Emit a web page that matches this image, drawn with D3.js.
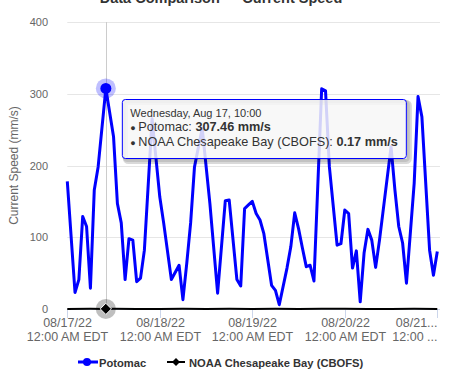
<!DOCTYPE html>
<html>
<head>
<meta charset="utf-8">
<script src="https://cdn.jsdelivr.net/npm/d3@7"></script>
<style>
    body { margin: 0; background: #ffffff; }
    svg { font-family: "Liberation Sans", Arial, sans-serif; }
</style>
</head>
<body>
<div id="chart"></div>
<script>
// Hours after 08/17/22 00:00 EDT and current speeds (mm/s)
const potomacHours = [0, 2, 3, 4, 5, 6, 7, 8, 10, 12, 13, 14, 15, 16, 17, 18, 19, 20, 22, 24,
    25, 27, 29, 30, 31, 32, 33, 35, 37, 39, 41, 42, 44, 45, 46, 47, 48, 49, 50, 51,
    53, 54, 55, 57, 58, 59, 60, 61, 62, 63, 64, 66, 67, 68, 70, 71, 72, 73, 74, 75,
    76, 77, 78, 79, 80, 81, 84, 85, 86, 87, 88, 90, 91, 92, 94, 95, 96];
const potomacValues = [178, 23, 41, 129, 115, 29, 166, 198, 307.46, 240, 147, 120, 41, 98, 96, 38, 43, 82, 265, 156,
    120, 41, 61, 13, 64, 120, 198, 252, 147, 22, 151, 152, 41, 32, 140, 145, 150, 133, 124, 105,
    33, 26, 6, 57, 87, 134, 112, 85, 59, 61, 39, 307, 304, 198, 89, 91, 138, 133, 57, 81,
    10, 78, 111, 96, 58, 96, 226, 166, 115, 92, 36, 175, 296, 268, 82, 47, 80];
const noaaHours = [0, 6, 10, 12, 18, 24, 30, 36, 42, 48, 54, 60, 66, 72, 78, 84, 90, 96];
const noaaValues = [0.12, 0.24, 0.17, 0.21, 0.09, 0.15, 0.26, 0.11, 0.19, 0.14, 0.22, 0.08, 0.18, 0.23, 0.1, 0.16, 0.2, 0.13];

const seriesNames = ["Potomac", "NOAA Chesapeake Bay (CBOFS)"];
const seriesColors = ["#0000ff", "#000000"];
const dayLabels = ["08/17/22", "08/18/22", "08/19/22", "08/20/22", "08/21..."];
const timeLabels = ["12:00 AM EDT", "12:00 AM EDT", "12:00 AM EDT", "12:00 AM EDT", "12:00 ..."];
const yTicks = [0, 100, 200, 300, 400];
const hoverHour = 10;
const tooltipDate = "Wednesday, Aug 17, 10:00";

const width = 457, height = 380;
const plot = {left: 67.3, right: 440, top: 22, bottom: 309};
const start = Date.UTC(2022, 7, 17, 0);
const hourMs = 3600 * 1000;
const toDate = h => new Date(start + h * hourMs);

const x = d3.scaleUtc()
    .domain([toDate(0), toDate(96)])
    .range([plot.left, 437.3]);
const y = d3.scaleLinear()
    .domain([0, 400])
    .range([plot.bottom, plot.top]);

const svg = d3.select("#chart").append("svg")
    .attr("width", width)
    .attr("height", height);

// Title (mostly above the visible area, as in the original)
svg.append("text")
    .attr("x", 221)
    .attr("y", 3)
    .attr("text-anchor", "middle")
    .attr("font-size", 14.5)
    .attr("font-weight", "bold")
    .attr("fill", "#333333")
    .text("Data Comparison \u2014 Current Speed");

// Gridlines and y labels
svg.append("g").selectAll("line")
    .data(yTicks)
    .join("line")
    .attr("x1", plot.left)
    .attr("x2", plot.right)
    .attr("y1", d => Math.round(y(d)) + 0.5)
    .attr("y2", d => Math.round(y(d)) + 0.5)
    .attr("stroke", "#e6e6e6");

svg.append("g").selectAll("text")
    .data(yTicks)
    .join("text")
    .attr("x", 48)
    .attr("y", d => y(d) + 4)
    .attr("text-anchor", "end")
    .attr("font-size", 11)
    .attr("fill", "#666666")
    .text(d => d);

svg.append("text")
    .attr("transform", "translate(18," + ((plot.top + plot.bottom) / 2) + ") rotate(-90)")
    .attr("text-anchor", "middle")
    .attr("font-size", 12)
    .attr("fill", "#666666")
    .text("Current Speed (mm/s)");

// X axis
const dayTicks = d3.range(dayLabels.length).map(i => toDate(i * 24));
svg.append("line")
    .attr("x1", plot.left)
    .attr("x2", plot.right)
    .attr("y1", plot.bottom + 0.5)
    .attr("y2", plot.bottom + 0.5)
    .attr("stroke", "#ccd6eb");
const xTick = svg.append("g").selectAll("g")
    .data(dayTicks)
    .join("g")
    .attr("transform", d => "translate(" + (Math.round(x(d)) + 0.5) + ",0)");
xTick.append("line")
    .attr("y1", plot.bottom)
    .attr("y2", plot.bottom + 9)
    .attr("stroke", "#ccd6eb");
xTick.append("text")
    .attr("y", plot.bottom + 18)
    .attr("text-anchor", (d, i) => i === dayLabels.length - 1 ? "end" : "middle")
    .attr("font-size", 12.5)
    .attr("fill", "#666666")
    .each(function(d, i) {
        const t = d3.select(this);
        t.append("tspan").attr("x", 0).text(dayLabels[i]);
        t.append("tspan").attr("x", 0).attr("dy", 14).text(timeLabels[i]);
    });

// Crosshair
svg.append("line")
    .attr("x1", Math.round(x(toDate(hoverHour))) + 0.5)
    .attr("x2", Math.round(x(toDate(hoverHour))) + 0.5)
    .attr("y1", plot.top)
    .attr("y2", plot.bottom)
    .attr("stroke", "#cccccc");

// Series lines
const line = d3.line()
    .x(d => x(toDate(d[0])))
    .y(d => y(d[1]));
const potomacData = d3.zip(potomacHours, potomacValues);
const noaaData = d3.zip(noaaHours, noaaValues);

svg.append("path")
    .datum(noaaData)
    .attr("d", line)
    .attr("fill", "none")
    .attr("stroke", seriesColors[1])
    .attr("stroke-width", 2);
svg.append("path")
    .datum(potomacData)
    .attr("d", line)
    .attr("fill", "none")
    .attr("stroke", seriesColors[0])
    .attr("stroke-width", 3)
    .attr("stroke-linejoin", "round");

// Hovered points
const hx = x(toDate(hoverHour));
const pVal = potomacValues[potomacHours.indexOf(hoverHour)];
const nVal = noaaValues[noaaHours.indexOf(hoverHour)];
svg.append("circle")
    .attr("cx", hx).attr("cy", y(pVal)).attr("r", 10)
    .attr("fill", seriesColors[0]).attr("fill-opacity", 0.25);
svg.append("circle")
    .attr("cx", hx).attr("cy", y(pVal)).attr("r", 5.5)
    .attr("fill", seriesColors[0]);
svg.append("circle")
    .attr("cx", hx).attr("cy", y(nVal)).attr("r", 10)
    .attr("fill", seriesColors[1]).attr("fill-opacity", 0.25);
svg.append("path")
    .attr("d", d3.symbol(d3.symbolDiamond2, 80)())
    .attr("transform", "translate(" + hx + "," + y(nVal) + ")")
    .attr("fill", seriesColors[1])
    .attr("stroke", "#ffffff")
    .attr("stroke-width", 1);

// Tooltip
const tip = svg.append("g")
    .attr("transform", "translate(" + (hx + 16.5) + ",99.5)");
[3, 2, 1].forEach(function(o) {
    tip.append("rect")
        .attr("x", o).attr("y", o)
        .attr("width", 284).attr("height", 59).attr("rx", 3)
        .attr("fill", "none")
        .attr("stroke", "#000000")
        .attr("stroke-opacity", 0.05 * o)
        .attr("stroke-width", 2 * o - 1);
});
tip.append("rect")
    .attr("width", 284)
    .attr("height", 59)
    .attr("rx", 3)
    .attr("fill", "#f7f7f7")
    .attr("fill-opacity", 0.85)
    .attr("stroke", seriesColors[0]);
tip.append("text")
    .attr("x", 8)
    .attr("y", 17)
    .attr("font-size", 11)
    .attr("fill", "#333333")
    .text(tooltipDate);
[[seriesNames[0], pVal], [seriesNames[1], nVal]].forEach(function(r, i) {
    const t = tip.append("text")
        .attr("x", 8)
        .attr("y", 31.5 + i * 15)
        .attr("font-size", 12.7)
        .attr("fill", "#333333");
    t.append("tspan").text("\u25CF ").attr("font-size", 9);
    t.append("tspan").text(r[0] + ": ");
    t.append("tspan").attr("font-weight", "bold").text(d3.format(".2f")(r[1]) + " mm/s");
});

// Legend
const legendX = [78, 167];
const legend = svg.append("g").selectAll("g")
    .data(seriesNames)
    .join("g")
    .attr("transform", (d, i) => "translate(" + legendX[i] + ",362)");
legend.append("line")
    .attr("x1", 0).attr("x2", (d, i) => i === 0 ? 20 : 18)
    .attr("stroke", (d, i) => seriesColors[i])
    .attr("stroke-width", (d, i) => i === 0 ? 3 : 2);
legend.append("path")
    .attr("d", (d, i) => d3.symbol(i === 0 ? d3.symbolCircle : d3.symbolDiamond2, i === 0 ? 50 : 40)())
    .attr("transform", "translate(9,0)")
    .attr("fill", (d, i) => seriesColors[i]);
legend.append("text")
    .attr("x", (d, i) => i === 0 ? 21 : 22)
    .attr("y", 4.5)
    .attr("font-size", 11.2)
    .attr("font-weight", "bold")
    .attr("fill", "#333333")
    .text(d => d);
</script>
</body>
</html>
